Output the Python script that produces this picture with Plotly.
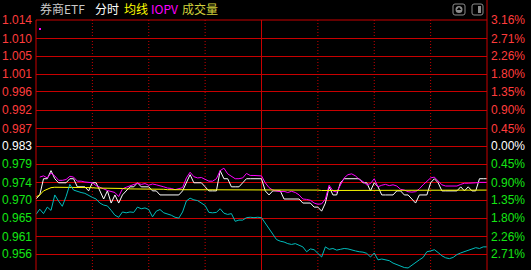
import plotly.graph_objects as go

# ---------------- data ----------------
minutes = list(range(0, 241, 2))  # 9:30 .. 15:00, every 2 minutes

price = [
    0.970, 0.971, 0.975, 0.975, 0.977, 0.975, 0.974, 0.974, 0.974, 0.975,
    0.975, 0.973, 0.973, 0.973, 0.972, 0.974, 0.974, 0.972, 0.970, 0.972,
    0.969, 0.971, 0.969, 0.971, 0.972, 0.973, 0.973, 0.974, 0.973, 0.973,
    0.973, 0.972, 0.972, 0.971, 0.971, 0.971, 0.971, 0.971, 0.971, 0.972,
    0.974, 0.976, 0.974, 0.974, 0.974, 0.973, 0.972, 0.972, 0.972, 0.977,
    0.975, 0.975, 0.973, 0.973, 0.973, 0.974, 0.975, 0.975, 0.975, 0.975,
    0.975, 0.972, 0.971, 0.972, 0.972, 0.972, 0.970, 0.970, 0.970, 0.970,
    0.970, 0.969, 0.969, 0.969, 0.968, 0.968, 0.967, 0.969, 0.973, 0.971,
    0.971, 0.974, 0.975, 0.975, 0.975, 0.975, 0.975, 0.974, 0.974, 0.972,
    0.974, 0.973, 0.971, 0.971, 0.971, 0.971, 0.972, 0.972, 0.971, 0.971,
    0.970, 0.969, 0.971, 0.971, 0.971, 0.974, 0.975, 0.974, 0.972, 0.972,
    0.972, 0.972, 0.972, 0.973, 0.972, 0.973, 0.972, 0.972, 0.975, 0.975,
    0.975,
]

iopv = [
    None, 0.9754, 0.9757, 0.9752, 0.9764, 0.9757, 0.9746, 0.9746, 0.9748, 0.9756,
    0.9754, 0.9744, 0.9744, 0.9742, 0.9741, 0.9740, 0.9733, 0.9728, 0.9725, 0.9721,
    0.9719, 0.9716, 0.9706, 0.9725, 0.9729, 0.9733, 0.9737, 0.9739, 0.9736, 0.9738,
    0.9734, 0.9737, 0.9735, 0.9733, 0.9730, 0.9727, 0.9726, 0.9723, 0.9725, 0.9728,
    0.9752, 0.9766, 0.9755, 0.9752, 0.9753, 0.9749, 0.9744, 0.9744, 0.9750, 0.9770,
    0.9776, 0.9762, 0.9757, 0.9750, 0.9750, 0.9752, 0.9763, 0.9758, 0.9758, 0.9758,
    0.9757, 0.9740, 0.9728, 0.9722, 0.9720, 0.9718, 0.9719, 0.9716, 0.9719, 0.9716,
    0.9710, 0.9700, 0.9699, 0.9697, 0.9690, 0.9687, 0.9688, 0.9700, 0.9734, 0.9720,
    0.9717, 0.9735, 0.9752, 0.9760, 0.9762, 0.9757, 0.9748, 0.9743, 0.9735, 0.9738,
    0.9750, 0.9730, 0.9734, 0.9736, 0.9733, 0.9735, 0.9732, 0.9724, 0.9722, 0.9718,
    0.9717, 0.9718, 0.9725, 0.9735, 0.9743, 0.9752, 0.9754, 0.9745, 0.9735, 0.9732,
    0.9732, 0.9733, 0.9732, 0.9736, 0.9739, 0.9739, 0.9739, 0.9740, 0.9741, 0.9741,
    0.9741,
]

avg_price = [
    0.9705, 0.9710, 0.9720, 0.9725, 0.9728, 0.9729, 0.9729, 0.9729, 0.9729, 0.9729,
    0.9729, 0.9729, 0.9729, 0.9728, 0.9728, 0.9728, 0.9727, 0.9727, 0.9727, 0.9727,
    0.9727, 0.9726, 0.9726, 0.9726, 0.9725, 0.9725, 0.9725, 0.9725, 0.9725, 0.9725,
    0.9725, 0.9724, 0.9724, 0.9724, 0.9724, 0.9723, 0.9723, 0.9723, 0.9723, 0.9723,
    0.9723, 0.9723, 0.9723, 0.9723, 0.9723, 0.9723, 0.9723, 0.9723, 0.9723, 0.9723,
    0.9723, 0.9723, 0.9723, 0.9723, 0.9723, 0.9723, 0.9723, 0.9723, 0.9723, 0.9723,
    0.9723, 0.9723, 0.9723, 0.9722, 0.9722, 0.9722, 0.9722, 0.9722, 0.9722, 0.9722,
    0.9722, 0.9722, 0.9722, 0.9722, 0.9722, 0.9722, 0.9721, 0.9721, 0.9721, 0.9721,
    0.9721, 0.9721, 0.9721, 0.9721, 0.9721, 0.9721, 0.9721, 0.9721, 0.9721, 0.9721,
    0.9721, 0.9721, 0.9721, 0.9721, 0.9721, 0.9721, 0.9721, 0.9721, 0.9721, 0.9721,
    0.9721, 0.9721, 0.9721, 0.9721, 0.9721, 0.9722, 0.9722, 0.9722, 0.9722, 0.9722,
    0.9722, 0.9722, 0.9722, 0.9722, 0.9722, 0.9722, 0.9722, 0.9722, 0.9722, 0.9722,
    0.9722,
]

index_line = [
    0.9662, 0.9675, 0.9664, 0.9680, 0.9672, 0.9710, 0.9695, 0.9682, 0.9706, 0.9736,
    0.9722, 0.9718, 0.9716, 0.9714, 0.9708, 0.9704, 0.9700, 0.9690, 0.9685, 0.9683,
    0.9672, 0.9660, 0.9655, 0.9668, 0.9666, 0.9668, 0.9667, 0.9680, 0.9676, 0.9678,
    0.9674, 0.9656, 0.9670, 0.9674, 0.9666, 0.9663, 0.9660, 0.9655, 0.9653, 0.9668,
    0.9695, 0.9702, 0.9698, 0.9696, 0.9690, 0.9684, 0.9667, 0.9666, 0.9667, 0.9676,
    0.9665, 0.9662, 0.9664, 0.9645, 0.9648, 0.9648, 0.9654, 0.9655, 0.9654, 0.9655,
    0.9654, 0.9640, 0.9628, 0.9612, 0.9600, 0.9596, 0.9594, 0.9590, 0.9588, 0.9590,
    0.9585, 0.9582, 0.9570, 0.9577, 0.9575, 0.9565, 0.9557, 0.9582, 0.9576, 0.9578,
    0.9574, 0.9576, 0.9578, 0.9577, 0.9574, 0.9572, 0.9570, 0.9569, 0.9566, 0.9557,
    0.9567, 0.9550, 0.9552, 0.9550, 0.9548, 0.9542, 0.9538, 0.9535, 0.9531, 0.9530,
    0.9537, 0.9545, 0.9550, 0.9556, 0.9570, 0.9572, 0.9575, 0.9568, 0.9560, 0.9555,
    0.9553, 0.9556, 0.9563, 0.9567, 0.9570, 0.9574, 0.9577, 0.9580, 0.9578, 0.9582,
    0.9582,
]

tick_vals = [1.0141, 1.0096, 1.0052, 1.0008, 0.9964, 0.9919, 0.9874, 0.9830,
             0.9786, 0.9741, 0.9697, 0.9653, 0.9608, 0.9564]
price_labels = ["1.014", "1.010", "1.005", "1.001", "0.996", "0.992", "0.987",
                "0.983", "0.979", "0.974", "0.970", "0.965", "0.961", "0.956"]
pct_labels = ["3.16%", "2.71%", "2.26%", "1.80%", "1.35%", "0.90%", "0.45%",
              "0.00%", "0.45%", "0.90%", "1.35%", "1.80%", "2.26%", "2.71%"]
label_dir = [1, 1, 1, 1, 1, 1, 1, 0, -1, -1, -1, -1, -1, -1]

# ---------------- style ----------------
W, H = 531, 270
ML, MR, MT, MB = 36, 44, 20, 0
PW, PH = W - ML - MR, H - MT - MB
RED = "#c80000"
UP = "#ff3c3c"
DOWN = "#14e614"
BASE = "#ffffff"
FONT_NUM = "Liberation Sans"
FONT_CJK = "Noto Sans CJK SC"
y_top = 1.01413
y_bot = y_top - 250 * 0.00024653


def col(d):
    return UP if d > 0 else (DOWN if d < 0 else BASE)


def px(x):
    return (x - ML) / PW


def py(y):
    return 1 + (MT - y) / PH


left_text = [f'<span style="color:{col(d)}">{t}</span>' for t, d in zip(price_labels, label_dir)]
right_text = [f'<span style="color:{col(d)}">{t}</span>' for t, d in zip(pct_labels, label_dir)]

fig = go.Figure()
fig.add_trace(go.Scatter(x=minutes, y=index_line, mode="lines",
                         line=dict(color="#00bcbc", width=1), yaxis="y2"))
fig.add_trace(go.Scatter(x=minutes, y=price, mode="lines",
                         line=dict(color="#ffffff", width=1)))
fig.add_trace(go.Scatter(x=minutes, y=iopv, mode="lines",
                         line=dict(color="#ff00ff", width=1)))
fig.add_trace(go.Scatter(x=minutes, y=avg_price, mode="lines",
                         line=dict(color="#ffff00", width=1)))

shapes = []
for m in [30, 60, 90, 150, 180, 210]:
    shapes.append(dict(type="line", xref="x", yref="paper", x0=m, x1=m, y0=0, y1=1,
                       line=dict(color=RED, width=1, dash="1px,2px"), layer="below"))
shapes.append(dict(type="line", xref="x", yref="paper", x0=120, x1=120, y0=0, y1=1,
                   line=dict(color=RED, width=1), layer="below"))
# borders
shapes.append(dict(type="line", xref="paper", yref="paper", x0=0, x1=0, y0=0, y1=1,
                   line=dict(color=RED, width=1)))
shapes.append(dict(type="line", xref="paper", yref="paper", x0=0, x1=1, y0=1, y1=1,
                   line=dict(color=RED, width=1)))
shapes.append(dict(type="line", xref="paper", yref="paper", x0=1, x1=1, y0=0, y1=py(0),
                   line=dict(color=RED, width=1)))
# small magenta marker near top-left
shapes.append(dict(type="rect", xref="paper", yref="paper", x0=px(39), x1=px(41),
                   y0=py(30), y1=py(28), line=dict(width=0), fillcolor="#ff00ff"))


def rrect(x0, y0, x1, y1, r):
    X0, X1 = px(x0), px(x1)
    Y0, Y1 = py(y0), py(y1)
    rx, ry = r / PW, r / PH
    return (f"M {X0+rx},{Y0} L {X1-rx},{Y0} Q {X1},{Y0} {X1},{Y0-ry} "
            f"L {X1},{Y1+ry} Q {X1},{Y1} {X1-rx},{Y1} L {X0+rx},{Y1} "
            f"Q {X0},{Y1} {X0},{Y1+ry} L {X0},{Y0-ry} Q {X0},{Y0} {X0+rx},{Y0} Z")


ICON = "#8c8c8c"
shapes.append(dict(type="path", xref="paper", yref="paper", path=rrect(453, 4, 465, 15, 2),
                   line=dict(color=ICON, width=1)))
shapes.append(dict(type="circle", xref="paper", yref="paper", x0=px(455.5), x1=px(462.5),
                   y0=py(13), y1=py(6), line=dict(width=0), fillcolor=ICON))
shapes.append(dict(type="path", xref="paper", yref="paper",
                   path=f"M {px(459)},{py(7)} L {px(461.3)},{py(10)} L {px(456.7)},{py(10)} Z",
                   line=dict(width=0), fillcolor="#000000"))
shapes.append(dict(type="path", xref="paper", yref="paper", path=rrect(472, 4, 483, 15, 2),
                   line=dict(color=ICON, width=1)))
shapes.append(dict(type="rect", xref="paper", yref="paper", x0=px(478), x1=px(481),
                   y0=py(13), y1=py(6), line=dict(width=0), fillcolor=ICON))

annotations = []
for text, color, x0 in [("券商ETF", "#c8c8c8", 38), ("分时", "#ffffff", 93),
                        ("均线", "#ffff00", 122), ("IOPV", "#ff00ff", 149),
                        ("成交量", "#d2d23c", 180)]:
    annotations.append(dict(text=text, xref="paper", yref="paper", x=px(x0), y=py(9),
                            xanchor="left", yanchor="middle", showarrow=False,
                            font=dict(family=FONT_CJK, size=12, color=color)))

axis_common = dict(range=[y_bot, y_top], tickvals=tick_vals, ticks="",
                   zeroline=False, showline=False, fixedrange=True, automargin=False,
                   tickfont=dict(family=FONT_NUM, size=12))

fig.update_layout(
    width=W, height=H, margin=dict(l=ML, r=MR, t=MT, b=MB, pad=0, autoexpand=False),
    paper_bgcolor="#000000", plot_bgcolor="#000000",
    showlegend=False, hovermode=False,
    xaxis=dict(range=[0, 240], showgrid=False, showticklabels=False, zeroline=False,
               showline=False, fixedrange=True),
    yaxis=dict(ticktext=left_text, showgrid=True, gridcolor=RED, gridwidth=1,
               side="left", ticklabelstandoff=3, **axis_common),
    yaxis2=dict(ticktext=right_text, showgrid=False, overlaying="y", side="right",
                ticklabelstandoff=3, **axis_common),
    shapes=shapes, annotations=annotations,
)

fig.write_html("out.html", config={"displayModeBar": False})
